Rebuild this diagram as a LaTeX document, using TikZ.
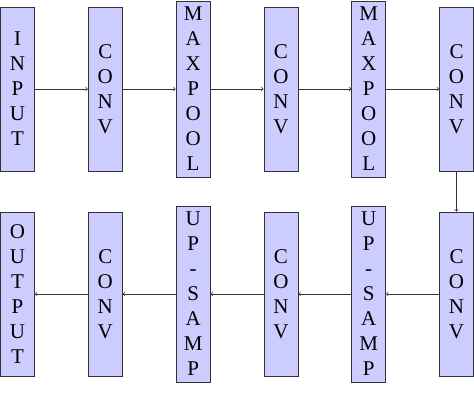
\documentclass[tikz,border=0pt]{standalone}
\usepackage{fontspec}
\setmainfont{Liberation Serif}
\usetikzlibrary{arrows}

\tikzset{
  layer/.style={draw=black!80, fill=blue!20, line width=0.8pt, inner sep=0pt,
    minimum width=34pt, minimum height=164pt, align=center,
    font=\fontsize{21}{25}\selectfont},
  tall/.style={layer, minimum height=176pt},
  link/.style={->, draw=black!80, line width=0.7pt}
}

\begin{document}
\begin{tikzpicture}[x=1pt, y=-1pt]
  % Define the row heights and the column gap
  \def\toprow{89}
  \def\botrow{294}
  \def\gap{87.8}

  \useasboundingbox (0,0) rectangle (474,408);

  % Draw the encoder row
  \node[layer] (in)  at (17.5+0*\gap,\toprow) {I\\N\\P\\U\\T};
  \node[layer] (c1)  at (17.5+1*\gap,\toprow) {C\\O\\N\\V};
  \node[tall]  (mp1) at (17.5+2*\gap,\toprow) {M\\A\\X\\P\\O\\O\\L};
  \node[layer] (c2)  at (17.5+3*\gap,\toprow) {C\\O\\N\\V};
  \node[tall]  (mp2) at (17.5+4*\gap,\toprow) {M\\A\\X\\P\\O\\O\\L};
  \node[layer] (c3)  at (17.5+5*\gap,\toprow) {C\\O\\N\\V};

  % Draw the decoder row
  \node[layer] (c4)  at (17.5+5*\gap,\botrow) {C\\O\\N\\V};
  \node[tall]  (us1) at (17.5+4*\gap,\botrow) {U\\P\\-\\S\\A\\M\\P};
  \node[layer] (c5)  at (17.5+3*\gap,\botrow) {C\\O\\N\\V};
  \node[tall]  (us2) at (17.5+2*\gap,\botrow) {U\\P\\-\\S\\A\\M\\P};
  \node[layer] (c6)  at (17.5+1*\gap,\botrow) {C\\O\\N\\V};
  \node[layer] (out) at (17.5+0*\gap,\botrow) {O\\U\\T\\P\\U\\T};

  % Draw the connections
  \foreach \a/\b in {in/c1, c1/mp1, mp1/c2, c2/mp2, mp2/c3} {
    \draw[link] (\a.east) -- (\b.west);
  }
  \draw[link] (c3.south) -- (c4.north);
  \foreach \a/\b in {c4/us1, us1/c5, c5/us2, us2/c6, c6/out} {
    \draw[link] (\a.west) -- (\b.east);
  }
\end{tikzpicture}
\end{document}
